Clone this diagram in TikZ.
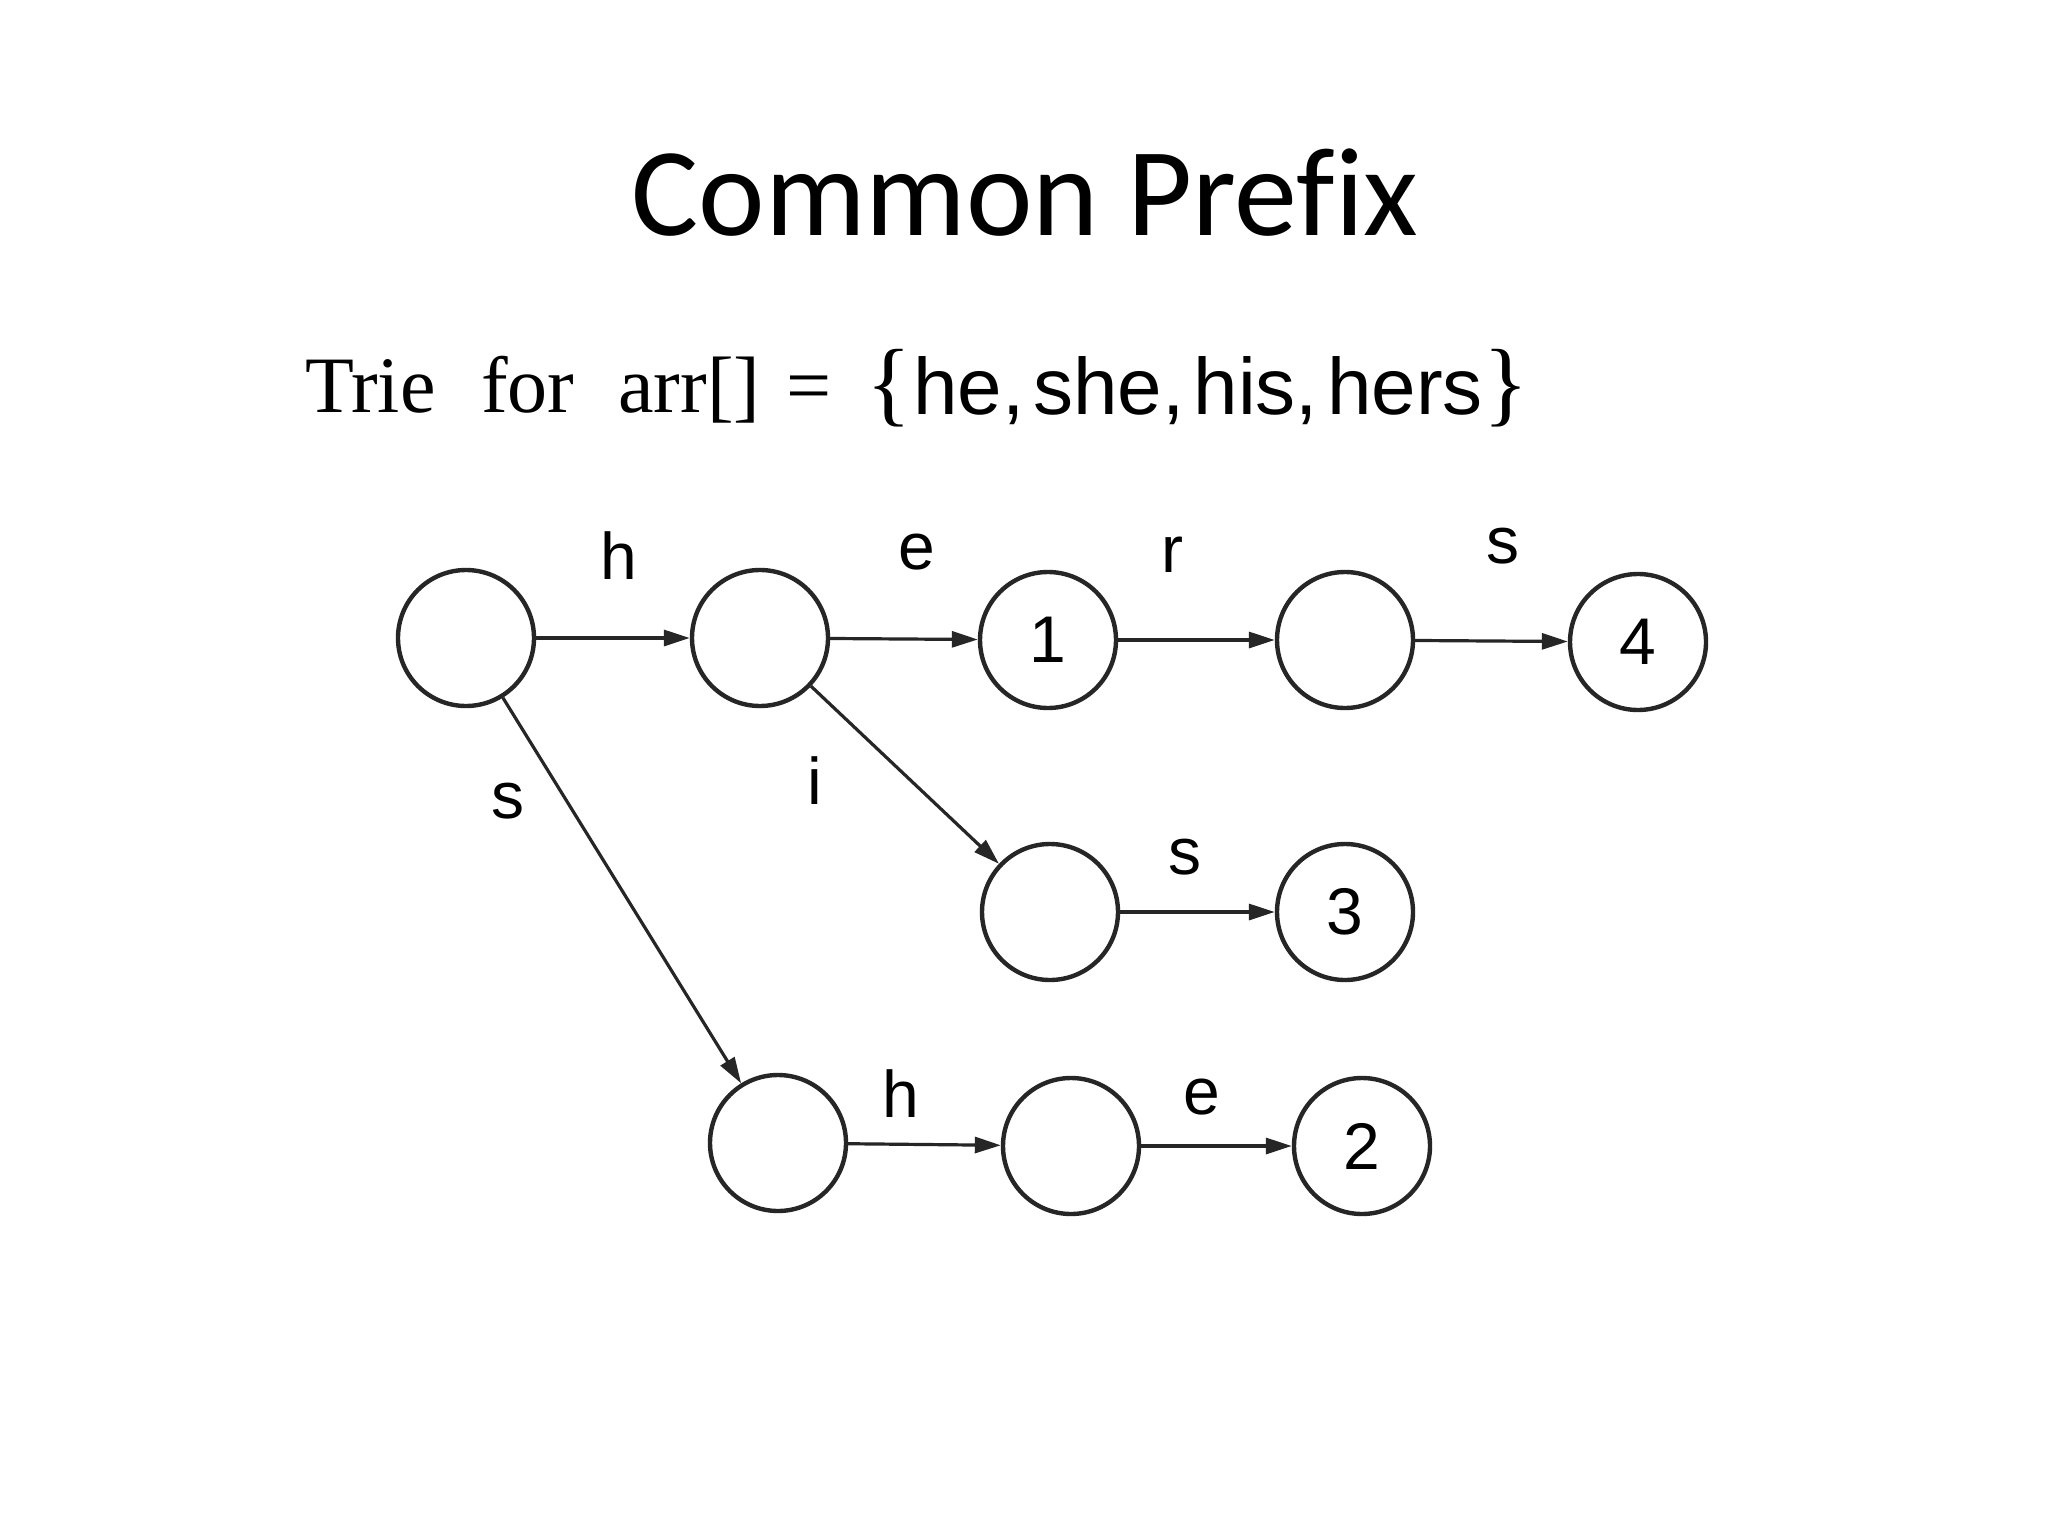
\documentclass[tikz,border=0pt]{standalone}
\usepackage{fontspec}
\setmainfont{Liberation Serif}
\newfontfamily\titlefont[Ligatures=NoCommon]{Carlito}
\newfontfamily\helv{Liberation Sans}
\usetikzlibrary{arrows.meta}
\begin{document}
\begin{tikzpicture}[x=1pt,y=-1pt,
  state/.style={circle,draw=black!85,line width=4.4pt,minimum size=136pt,inner sep=0pt,
    font=\helv\fontsize{66}{66}\selectfont},
  lbl/.style={font=\helv\fontsize{66}{66}\selectfont,inner sep=0pt},
  edge/.style={line width=3.2pt,draw=black!85,-{Triangle[length=26pt,width=16pt]}},
  sub/.style={anchor=base west,inner sep=0pt}]
\useasboundingbox (0,0) rectangle (2048,1536);
\fill[white] (0,0) rectangle (2048,1536);
% title
\node[anchor=base,inner sep=0pt,font=\titlefont\fontsize{126}{126}\selectfont] (title) at (1025,235) {Common Prefix};
% subtitle
\node[sub,font=\fontsize{80}{80}\selectfont] (sub1) at (305,412) {Trie};
\node[sub,font=\fontsize{80}{80}\selectfont] (sub2) at (481,412) {for};
\node[sub,font=\fontsize{80}{80}\selectfont] (sub3) at (618,412) {arr[]\,\,=};
\node[sub,font=\fontsize{94}{94}\selectfont] (sub4) at (866,414) {\{\kern2pt{\helv\fontsize{80}{80}\selectfont he,\kern9pt she,\kern9pt his,\kern9pt hers}\kern1pt\}};
% nodes
\node[state] (n0) at (466,638) {};
\node[state] (n1) at (760,638) {};
\node[state] (n2) at (1048,640) {1};
\node[state] (n3) at (1345,640) {};
\node[state] (n4) at (1638,642) {4};
\node[state] (n5) at (1050,912) {};
\node[state] (n6) at (1345,912) {3};
\node[state] (n7) at (778,1143) {};
\node[state] (n8) at (1071,1146) {};
\node[state] (n9) at (1362,1146) {2};
% edges
\draw[edge] (n0) -- (n1);
\draw[edge] (n1) -- (n2);
\draw[edge] (n2) -- (n3);
\draw[edge] (n3) -- (n4);
\draw[edge] (n1) -- (n5);
\draw[edge] (n5) -- (n6);
\draw[edge] (n0) -- (n7);
\draw[edge] (n7) -- (n8);
\draw[edge] (n8) -- (n9);
% labels
\node[lbl] (l01) at (619,556) {h};
\node[lbl] (l12) at (917,552) {e};
\node[lbl] (l23) at (1172,555) {r};
\node[lbl] (l34) at (1503,546) {s};
\node[lbl] (l07) at (508,801) {s};
\node[lbl] (l15) at (815,781) {i};
\node[lbl] (l56) at (1185,857) {s};
\node[lbl] (l78) at (901,1094) {h};
\node[lbl] (l89) at (1202,1097) {e};
\end{tikzpicture}
\end{document}
